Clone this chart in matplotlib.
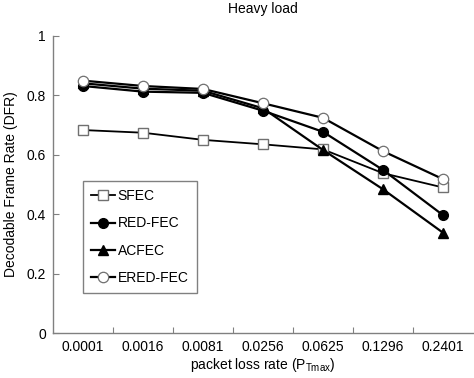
import matplotlib
matplotlib.use("Agg")
import matplotlib.pyplot as plt
import numpy as np

plt.rcParams['font.family'] = ['Liberation Sans', 'DejaVu Sans']
plt.rcParams['mathtext.fontset'] = 'custom'
plt.rcParams['mathtext.rm'] = 'Liberation Sans'

categories = ['0.0001', '0.0016', '0.0081', '0.0256', '0.0625', '0.1296', '0.2401']
sfec = [0.683, 0.674, 0.650, 0.635, 0.618, 0.538, 0.490]
red_fec = [0.831, 0.812, 0.808, 0.748, 0.677, 0.549, 0.397]
acfec = [0.840, 0.822, 0.815, 0.756, 0.616, 0.484, 0.338]
ered_fec = [0.849, 0.831, 0.821, 0.773, 0.724, 0.612, 0.518]
yticks = [0, 0.2, 0.4, 0.6, 0.8, 1]
ytick_labels = ['0', '0.2', '0.4', '0.6', '0.8', '1']

fig = plt.figure(figsize=(4.74, 3.78), dpi=100)
ax = fig.add_axes([53/474, 1-333.3/378, 420/474, 297.6/378])

x = np.arange(len(categories))
lw = 1.6
ax.plot(x, sfec, color='black', lw=1.3, marker='s', ms=6.5, mfc='white',
        mec='#707070', mew=1.0, label='SFEC', zorder=3)
ax.plot(x, red_fec, color='black', lw=lw, marker='o', ms=7, mfc='black',
        mec='black', label='RED-FEC', zorder=4)
ax.plot(x, acfec, color='black', lw=lw, marker='^', ms=7.5, mfc='black',
        mec='black', label='ACFEC', zorder=4)
ax.plot(x, ered_fec, color='black', lw=lw, marker='o', ms=7.5, mfc='white',
        mec='#707070', mew=0.9, label='ERED-FEC', zorder=5)

ax.set_xlim(-0.5, 6.5)
ax.set_ylim(0, 1)
for s in ['top', 'right']:
    ax.spines[s].set_visible(False)
for s in ['left', 'bottom']:
    ax.spines[s].set_color('#808080')
    ax.spines[s].set_linewidth(1.0)

ax.set_xticks(np.arange(0.5, 6.5, 1.0))
ax.set_xticklabels([])
ax.set_xticks(x, minor=True)
ax.set_xticklabels(categories, minor=True, fontsize=10)
ax.tick_params(axis='x', which='major', direction='in', length=4, color='#808080')
ax.tick_params(axis='x', which='minor', length=0, pad=5)
ax.set_yticks(yticks)
ax.set_yticklabels(ytick_labels, fontsize=10)
ax.tick_params(axis='y', direction='in', length=4, color='#808080', pad=5)

ax.set_title('Heavy load', fontsize=10, pad=16)
ax.set_xlabel(r'packet loss rate (P$_{\mathregular{Tmax}}$)', fontsize=10, labelpad=1)
ax.set_ylabel('Decodable Frame Rate (DFR)', fontsize=10, labelpad=6)

leg = ax.legend(loc='upper left', bbox_to_anchor=(0.071, 0.512), borderaxespad=0,
                fontsize=10, fancybox=False, frameon=True, handlelength=1.7,
                handletextpad=0.2, labelspacing=0.95, borderpad=0.6)
leg.get_frame().set_edgecolor('#606060')
leg.get_frame().set_linewidth(1.0)

fig.savefig('out.png', dpi=100)
